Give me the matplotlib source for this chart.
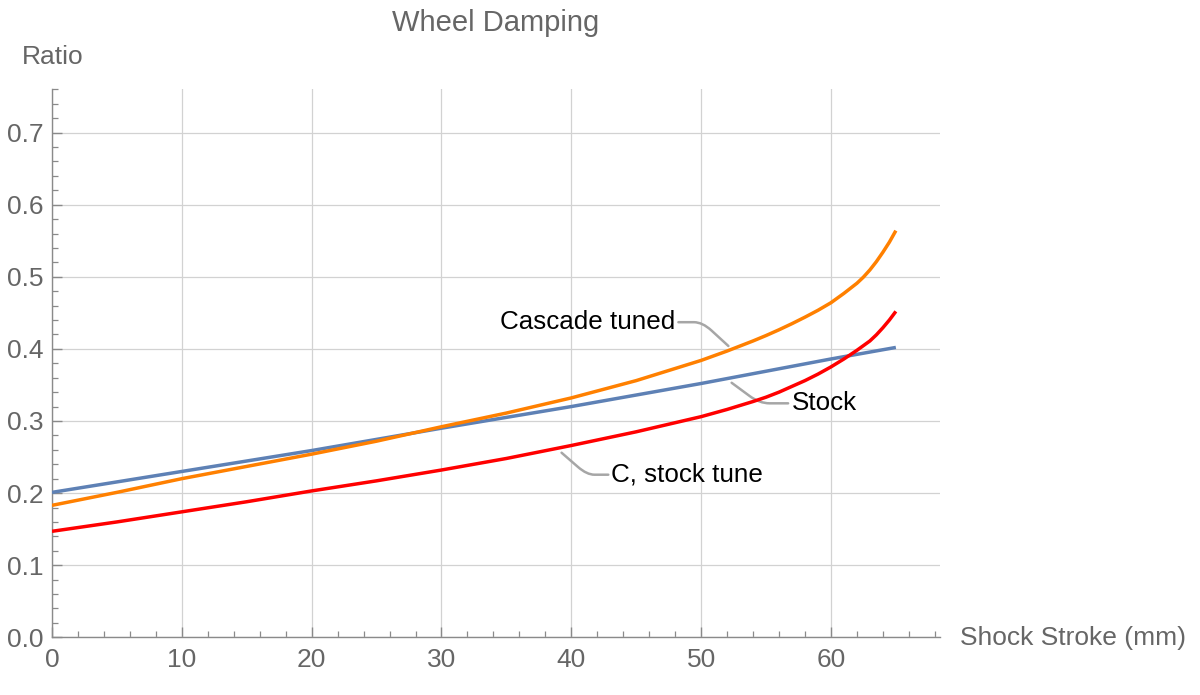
import matplotlib
matplotlib.use("Agg")
import matplotlib.pyplot as plt
from matplotlib.path import Path
from matplotlib.patches import PathPatch
from matplotlib.ticker import MultipleLocator

# ---- data ----
stock_x = [0, 10, 20, 30, 40, 50, 60, 65]
stock_y = [0.201, 0.230, 0.259, 0.290, 0.320, 0.352, 0.386, 0.402]

cascade_x = [0, 5, 10, 15, 20, 25, 30, 35, 40, 45, 50, 52, 54, 55, 56, 57, 58, 59,
             60, 61, 62, 62.5, 63, 63.5, 64, 64.5, 65]
cascade_y = [0.183, 0.201, 0.220, 0.237, 0.254, 0.272, 0.292, 0.311, 0.332, 0.356,
             0.384, 0.397, 0.411, 0.4185, 0.4265, 0.435, 0.444, 0.4535,
             0.464, 0.477, 0.491, 0.4995, 0.5095, 0.521, 0.534, 0.548, 0.564]

cstock_x = [0, 5, 10, 15, 20, 25, 30, 35, 40, 45, 50, 52, 54, 55, 56, 57, 58, 59,
            60, 61, 62, 62.5, 63, 63.5, 64, 64.5, 65]
cstock_y = [0.147, 0.160, 0.174, 0.188, 0.203, 0.217, 0.232, 0.248, 0.266, 0.285,
            0.306, 0.316, 0.327, 0.333, 0.340, 0.348, 0.356, 0.365,
            0.375, 0.386, 0.398, 0.4045, 0.411, 0.4195, 0.4293, 0.440, 0.452]

x_ticks = [0, 10, 20, 30, 40, 50, 60]
y_ticks = [0.0, 0.1, 0.2, 0.3, 0.4, 0.5, 0.6, 0.7]
y_tick_labels = ["0.0", "0.1", "0.2", "0.3", "0.4", "0.5", "0.6", "0.7"]

title = "Wheel Damping"
x_label = "Shock Stroke (mm)"
y_label = "Ratio"

# ---- style ----
plt.rcParams['font.family'] = ['Liberation Sans', 'DejaVu Sans']
GRAY_TXT = "#666666"
AXIS_C = "#8a8a8a"
GRID_C = "#d2d2d2"
FS = 19

fig = plt.figure(figsize=(12, 6.95), dpi=100)
ax = fig.add_axes([52 / 1200, (695 - 637.3) / 695, (940 - 52) / 1200, (637.3 - 89.3) / 695])

ax.set_xlim(0, 68.4)
ax.set_ylim(0, 0.76)

ax.plot(stock_x, stock_y, color="#5E81B5", lw=2.5, solid_capstyle="butt",
        solid_joinstyle="round", zorder=3)
ax.plot(cascade_x, cascade_y, color="#FF8000", lw=2.5, solid_capstyle="butt",
        solid_joinstyle="round", zorder=3)
ax.plot(cstock_x, cstock_y, color="#FF0000", lw=2.5, solid_capstyle="butt",
        solid_joinstyle="round", zorder=3)

for s in ["top", "right"]:
    ax.spines[s].set_visible(False)
for s in ["left", "bottom"]:
    ax.spines[s].set_color(AXIS_C)
    ax.spines[s].set_linewidth(1.0)

ax.set_xticks(x_ticks)
ax.set_yticks(y_ticks)
ax.set_yticklabels(y_tick_labels)
ax.xaxis.set_minor_locator(MultipleLocator(2))
ax.yaxis.set_minor_locator(MultipleLocator(0.02))
ax.tick_params(which="major", direction="in", length=7, width=1.0, color=AXIS_C,
               labelsize=FS, labelcolor=GRAY_TXT)
ax.tick_params(which="minor", direction="in", length=4.2, width=0.9, color=AXIS_C)
ax.tick_params(axis="x", which="major", pad=8)
ax.tick_params(axis="y", which="major", pad=6)

ax.grid(True, which="major", color=GRID_C, lw=0.9, zorder=0)
ax.set_axisbelow(True)

fig.text(496 / 1200, 1 - 23 / 695, title, fontsize=21, color=GRAY_TXT, ha="center", va="center")
fig.text(22 / 1200, 1 - 57 / 695, y_label, fontsize=FS, color=GRAY_TXT, ha="left", va="center")
fig.text(960 / 1200, 1 - 638 / 695, x_label, fontsize=FS, color=GRAY_TXT, ha="left", va="center")

# ---- callout labels with leader lines ----
def leader(a, corner, b, r=0.35):
    p1 = (a[0] + (corner[0] - a[0]) * (1 - r), a[1] + (corner[1] - a[1]) * (1 - r))
    p2 = (corner[0] + (b[0] - corner[0]) * r, corner[1] + (b[1] - corner[1]) * r)
    verts = [a, p1, corner, p2, b]
    codes = [Path.MOVETO, Path.LINETO, Path.CURVE3, Path.CURVE3, Path.LINETO]
    ax.add_patch(PathPatch(Path(verts, codes), fill=False, edgecolor="#a6a6a6",
                           lw=1.8, zorder=2, capstyle="round"))

LFS = 18.7
leader((48.25, 0.437), (50.1, 0.437), (52.1, 0.404))
ax.text(48.0, 0.437, "Cascade tuned", fontsize=LFS, color="black", ha="right", va="center")

leader((56.7, 0.3245), (54.5, 0.3245), (52.35, 0.353))
ax.text(56.95, 0.3245, "Stock", fontsize=LFS, color="black", ha="left", va="center")

leader((42.85, 0.2255), (41.2, 0.2255), (39.25, 0.256))
ax.text(43.05, 0.2255, "C, stock tune", fontsize=LFS, color="black", ha="left", va="center")

fig.savefig("out.png", dpi=100)
